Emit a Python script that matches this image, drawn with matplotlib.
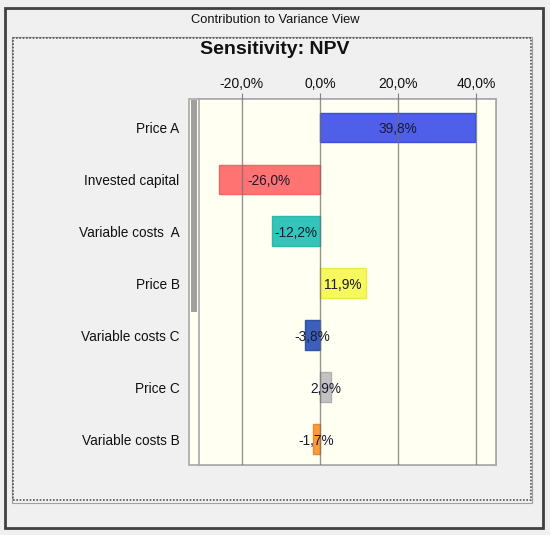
import matplotlib
matplotlib.use("Agg")
import matplotlib.pyplot as plt
from matplotlib.patches import Rectangle

categories = ["Price A", "Invested capital", "Variable costs  A", "Price B",
              "Variable costs C", "Price C", "Variable costs B"]
values = [39.8, -26.0, -12.2, 11.9, -3.8, 2.9, -1.7]
colors = ["#4f5fe9", "#ff7373", "#33c5b9", "#f7f75e", "#3b5fba", "#c2c2c2", "#fa9b3c"]
edges = ["#3f50dc", "#f06565", "#2cb8ac", "#e8e850", "#30539f", "#b0b0b0", "#ee8a2a"]
xticks = [-20, 0, 20, 40]
xtick_labels = ["-20,0%", "0,0%", "20,0%", "40,0%"]

W, H = 550, 535
fig = plt.figure(figsize=(W / 100, H / 100), dpi=100)
fig.patch.set_facecolor("#f0f0f0")
plt.rcParams['font.family'] = ['Liberation Sans', 'DejaVu Sans']

def fx(px):
    return px / W

def fy(py):
    return 1 - py / H

# outer window frame
fig.patches.append(Rectangle((fx(5), fy(528)), fx(538), 520 / H, transform=fig.transFigure,
                             fill=False, edgecolor="#404040", linewidth=2))
fig.patches.append(Rectangle((fx(12), fy(503)), fx(520), 466 / H, transform=fig.transFigure,
                             fill=False, edgecolor="#a0a0a0", linewidth=0.8))
fig.patches.append(Rectangle((fx(13), fy(500)), fx(518), 462 / H, transform=fig.transFigure,
                             fill=False, edgecolor="#555555", linewidth=1.2, linestyle=(0, (1, 1))))
fig.text(0.5, fy(20), "Contribution to Variance View", ha="center", va="center",
         fontsize=9.3, color="#111111")
fig.text(0.5, fy(49), "Sensitivity: NPV", ha="center", va="center",
         fontsize=14, fontweight="bold", color="#111111")

# plot frame including scrollbar region
fig.patches.append(Rectangle((fx(189), fy(465)), fx(307), 366 / H, transform=fig.transFigure,
                             facecolor="#fffff2", edgecolor="#a8a8a8", linewidth=1.2, zorder=0))
fig.patches.append(Rectangle((fx(191), fy(312)), fx(6), 212 / H, transform=fig.transFigure,
                             facecolor="#a0a0a0", edgecolor="none", zorder=1))

ax = fig.add_axes([fx(199), fy(465), fx(297), 366 / H])
ax.set_zorder(5)
ax.set_facecolor("#fffff2")
y = list(range(len(categories)))
ax.barh(y, values, height=0.56, color=colors, edgecolor=edges, linewidth=1, zorder=2)
for yi, v in zip(y, values):
    ax.text(v / 2, yi, f"{v:.1f}%".replace(".", ","), ha="center", va="center_baseline",
            fontsize=9.8, color="#1a1a30", zorder=4)

ax.set_xlim(-31.0, 45.1)
ax.set_ylim(6.5, -0.54)
ax.set_xticks(xticks)
ax.set_xticklabels(xtick_labels)
ax.xaxis.tick_top()
ax.tick_params(axis="x", direction="out", length=4, color="#808080", labelsize=10,
               labelcolor="#111111", pad=2)
ax.set_yticks(y)
ax.set_yticklabels(categories)
ax.tick_params(axis="y", length=0, labelsize=9.8, labelcolor="#111111", pad=14)
ax.set_axisbelow(False)
ax.grid(axis="x", color="#707070", linewidth=1, alpha=0.75, zorder=3)
ax.grid(axis="y", visible=False)
for s in ax.spines.values():
    s.set_color("#a8a8a8")
    s.set_linewidth(1.2)

fig.savefig("out.png", dpi=100, facecolor=fig.get_facecolor())
